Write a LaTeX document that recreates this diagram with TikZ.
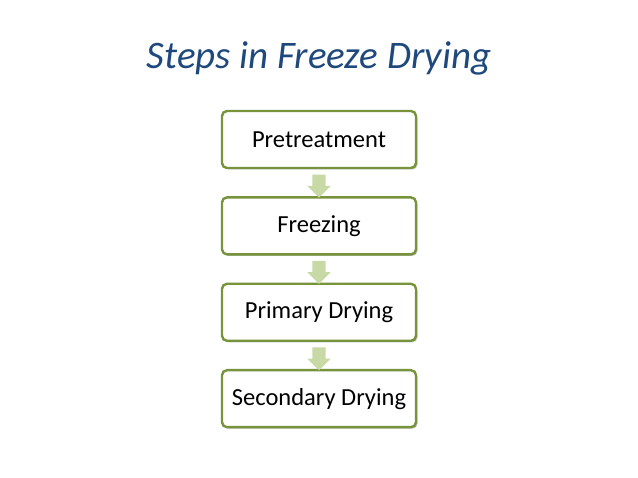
\documentclass[tikz,border=0pt]{standalone}
\usepackage{fontspec}
\setmainfont{Carlito}
\usepackage{xcolor}
\usetikzlibrary{positioning, shapes.arrows, shadows}

\definecolor{titleblue}{RGB}{31,73,125}
\definecolor{boxgreen}{RGB}{119,147,60}
\definecolor{arrowgreen}{RGB}{200,217,165}

\begin{document}
\begin{tikzpicture}[
    x=1pt, y=1pt,
    node distance=27pt,
    stepbox/.style={rectangle, draw=boxgreen, line width=2.4pt, fill=white, rounded corners=5pt, minimum width=194pt, minimum height=57pt, align=center, font=\fontsize{24.5}{28}\selectfont, drop shadow={shadow xshift=1.5pt, shadow yshift=-1.5pt, opacity=0.25, fill=black}},
    downarrow/.style={single arrow, fill=arrowgreen, draw=none, shape border rotate=270, inner sep=6.5pt, single arrow head extend=5pt, minimum height=23pt}
]

% page
\useasboundingbox (0,0) rectangle (638,-478);

% Title
\node[font=\fontsize{39}{46}\selectfont\itshape, text=titleblue] (title) at (319,-58) {Steps in Freeze Drying};

% Steps
\node[stepbox] (pre) at (319,-139.5) {Pretreatment};
\node[stepbox, below=of pre] (freeze) {Freezing};
\node[stepbox, below=of freeze] (primary) {Primary Drying};
\node[stepbox, below=of primary] (secondary) {Secondary Drying};

% Arrows between steps
\path (pre.south) -- node[downarrow] (a1) {} (freeze.north);
\path (freeze.south) -- node[downarrow] (a2) {} (primary.north);
\path (primary.south) -- node[downarrow] (a3) {} (secondary.north);

\end{tikzpicture}
\end{document}
